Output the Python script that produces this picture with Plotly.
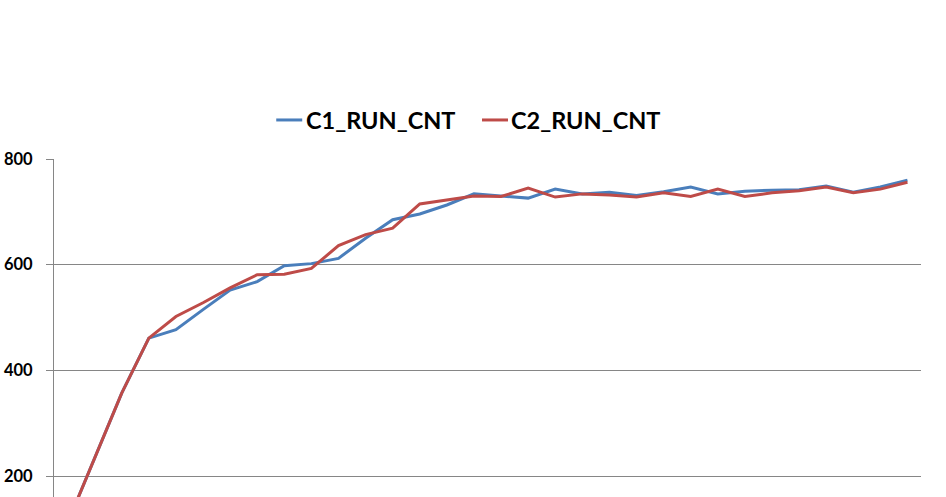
import plotly.graph_objects as go

categories = list(range(1, 33))
c1_run_cnt = [111, 234, 357, 461, 477, 515, 552, 568, 598, 602, 612, 650,
              685, 696, 713, 734, 730, 726, 743, 734, 737, 731, 738, 747,
              734, 739, 741, 742, 749, 737, 747, 760]
c2_run_cnt = [111, 234, 357, 461, 502, 528, 556, 581, 582, 593, 636, 657,
              669, 715, 723, 730, 729, 745, 728, 734, 732, 728, 736, 729,
              743, 729, 736, 740, 747, 736, 743, 756]
y_ticks = [200, 400, 600, 800]
series_names = ["C1_RUN_CNT", "C2_RUN_CNT"]

BLUE = "#4A7EBB"
RED = "#BE4B48"
FONT = "Lato"

W, H = 946, 497
L, R, T, B = 53.5, 24.5, 159.3, 0
PW, PH = W - L - R, H - T - B


def px_x(px):
    return (px - L) / PW


def px_y(py):
    return (H - B - py) / PH


fig = go.Figure()
fig.add_trace(go.Scatter(x=categories, y=c1_run_cnt, mode="lines", name=series_names[0],
                         line=dict(color=BLUE, width=3), showlegend=False))
fig.add_trace(go.Scatter(x=categories, y=c2_run_cnt, mode="lines", name=series_names[1],
                         line=dict(color=RED, width=3), showlegend=False))

# Manual legend (line samples + labels)
legend_items = [(series_names[0], BLUE, 276, 302, 303.5), (series_names[1], RED, 482, 508, 509.5)]
for name, col, x0, x1, xt in legend_items:
    fig.add_shape(type="line", xref="paper", yref="paper",
                  x0=px_x(x0), x1=px_x(x1), y0=px_y(120.3), y1=px_y(120.3),
                  line=dict(color=col, width=3))
    fig.add_annotation(xref="paper", yref="paper", x=px_x(xt), y=px_y(120),
                       xanchor="left", yanchor="middle", text=name, showarrow=False,
                       font=dict(size=23.5, family=FONT, weight="bold", color="black"))

fig.update_layout(
    width=W, height=H,
    margin=dict(l=L, r=R, t=T, b=B, pad=0, autoexpand=False),
    paper_bgcolor="white", plot_bgcolor="white",
    font=dict(family=FONT, color="black"),
    showlegend=False,
    xaxis=dict(range=[0.5, 32.5], showgrid=False, showticklabels=False, ticks="",
               zeroline=False, showline=False, fixedrange=True, automargin=False),
    yaxis=dict(range=[160.4, 800], tickvals=y_ticks, ticktext=[str(v) for v in y_ticks],
               showgrid=True, gridcolor="#868686", gridwidth=1,
               showline=True, linecolor="#868686", linewidth=1,
               ticks="outside", ticklen=7, tickcolor="#868686",
               tickfont=dict(size=16.5, family=FONT, weight="bold", color="black"),
               ticklabelstandoff=10, zeroline=False, fixedrange=True, automargin=False),
)

fig.write_html("out.html", config={"displayModeBar": False},
               post_script="document.body.style.margin='0px';")
